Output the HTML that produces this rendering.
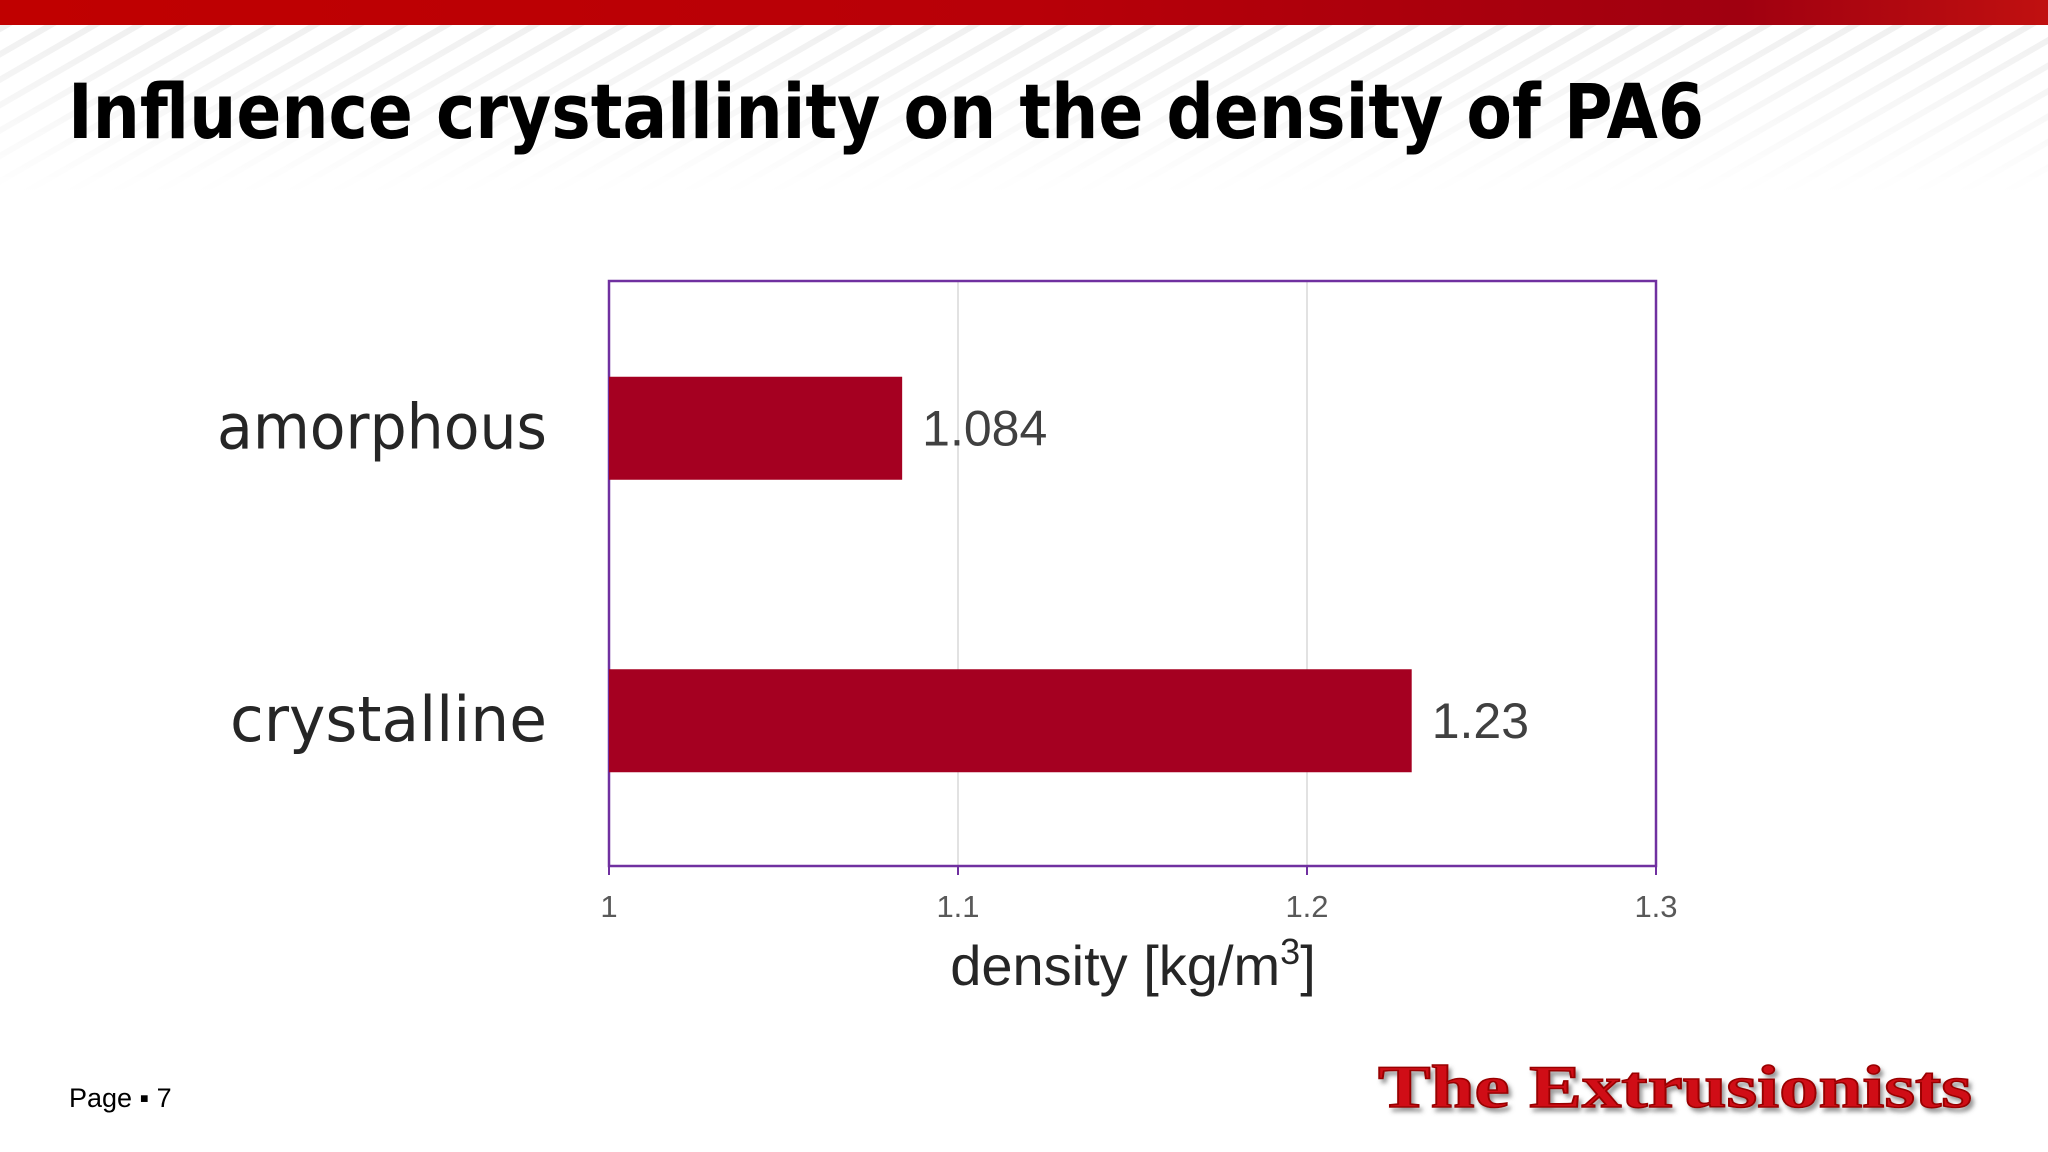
<!DOCTYPE html>
<html><head><meta charset="utf-8"><style>
html,body{margin:0;padding:0;background:#fff;}
svg{display:block;}
</style></head><body>
<svg id="chart" width="2048" height="1152" viewBox="0 0 2048 1152" xmlns="http://www.w3.org/2000/svg">
<defs>
<linearGradient id="topbar" x1="0" x2="1" y1="0" y2="0">
<stop offset="0" stop-color="#c00000"/><stop offset="0.5" stop-color="#b80008"/><stop offset="0.85" stop-color="#a00010"/><stop offset="1" stop-color="#c01010"/>
</linearGradient>
<pattern id="stripes" width="22" height="22" patternUnits="userSpaceOnUse" patternTransform="rotate(-30)">
<rect width="22" height="22" fill="#fff"/><rect width="22" height="6" fill="#f0f0f0"/>
</pattern>
<linearGradient id="fade" x1="0" x2="0" y1="0" y2="1">
<stop offset="0" stop-color="#fff" stop-opacity="0"/><stop offset="1" stop-color="#fff" stop-opacity="1"/>
</linearGradient>
<filter id="sh"><feDropShadow dx="3" dy="4" stdDeviation="2" flood-color="#555" flood-opacity="0.6"/></filter>
</defs>
<rect width="2048" height="1152" fill="#fff"/>
<rect y="24" width="2048" height="170" fill="url(#stripes)"/>
<rect y="24" width="2048" height="170" fill="url(#fade)"/>
<rect width="2048" height="25" fill="url(#topbar)"/>
<text x="68" y="138" font-family="'DejaVu Sans', sans-serif" font-weight="bold" font-size="76" fill="#000" textLength="1636" lengthAdjust="spacingAndGlyphs">Influence crystallinity on the density of PA6</text>
<g id="plot"></g>
<text x="69" y="1107" font-family="'Liberation Sans', sans-serif" font-size="27" fill="#000">Page ▪ 7</text>
<text x="1378" y="1107" font-family="'Liberation Serif', serif" font-weight="bold" font-size="60" fill="#d01018" stroke="#900" stroke-width="1.5" filter="url(#sh)" textLength="594" lengthAdjust="spacingAndGlyphs">The Extrusionists</text>
</svg>
<script>
const categories = ["amorphous", "crystalline"];
const values = [1.084, 1.23];
const valueLabels = ["1.084", "1.23"];
const ticks = [1, 1.1, 1.2, 1.3];
const tickLabels = ["1", "1.1", "1.2", "1.3"];

const NS = "http://www.w3.org/2000/svg";
const g = document.getElementById("plot");
const L = 609, R = 1656, T = 281, B = 866;
const xMin = 1, xMax = 1.3;
const x = v => L + (v - xMin) / (xMax - xMin) * (R - L);
const band = (B - T) / categories.length;
const barH = 103;
const yc = i => T + band * (i + 0.5);
const labelW = [330, 317];
function mk(tag, attrs, parent) {
  const e = document.createElementNS(NS, tag);
  for (const k in attrs) e.setAttribute(k, attrs[k]);
  (parent || g).appendChild(e);
  return e;
}
ticks.forEach((t, i) => {
  if (i > 0 && i < ticks.length - 1) {
    const gl = mk("line", {x1: x(t), x2: x(t), y1: T, y2: B, stroke: "#d9d9d9", "stroke-width": 1.5});
    
    
  }
  const tk = mk("line", {x1: x(t), x2: x(t), y1: B, y2: B + 9, stroke: "#7030a0", "stroke-width": 2});
  
  
  const tl = mk("text", {x: x(t), y: B + 51, "text-anchor": "middle", "font-family": "'Liberation Sans', sans-serif", "font-size": 31, fill: "#595959"});
  tl.textContent = tickLabels[i];
  
  
});
const box = mk("rect", {x: L, y: T, width: R - L, height: B - T, fill: "none", stroke: "#7030a0", "stroke-width": 2.5});


categories.forEach((c, i) => {
  const cy = yc(i) + 1;
  const bar = mk("rect", {x: x(xMin), y: cy - barH / 2, width: x(values[i]) - x(xMin), height: barH, fill: "#a50021"});
  
  
  const cl = mk("text", {x: 547 - labelW[i], y: cy + 20, textLength: labelW[i], lengthAdjust: "spacingAndGlyphs", "font-family": "'DejaVu Sans', sans-serif", "font-size": 62, fill: "#262626"});
  cl.textContent = c;
  
  
  const vl = mk("text", {x: x(values[i]) + 20, y: cy + 17, "font-family": "'Liberation Sans', sans-serif", "font-size": 50, fill: "#404040"});
  vl.textContent = valueLabels[i];
  
  
});
const at = mk("text", {x: 1133, y: 985, "text-anchor": "middle", "font-family": "'Liberation Sans', sans-serif", "font-size": 56, fill: "#262626"});
at.innerHTML = 'density [kg/m<tspan dy="-21" font-size="36">3</tspan><tspan dy="21">]</tspan>';


</script>
</body></html>
